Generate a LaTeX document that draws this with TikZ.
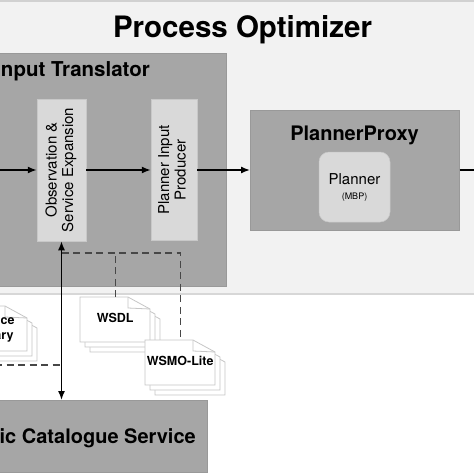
\documentclass[tikz,border=0pt]{standalone}
\usepackage{fontspec}
\setmainfont{TeX Gyre Heros}
\usetikzlibrary{arrows.meta}
\definecolor{boxgray}{HTML}{A6A6A6}
\definecolor{innergray}{HTML}{D9D9D9}
\definecolor{bggray}{HTML}{F2F2F2}
\definecolor{docgray}{HTML}{C6C6C6}
\tikzset{
  outerbox/.style={fill=boxgray, draw=boxgray!92!black, line width=0.6pt, inner sep=0pt},
  innerbox/.style={fill=innergray, draw=innergray!92!black, line width=0.5pt, inner sep=0pt},
  flow/.style={line width=1.4pt, -{Latex[length=9pt,width=7pt]}},
  biflow/.style={line width=1.4pt, {Latex[length=9pt,width=7pt]}-{Latex[length=9pt,width=7pt]}},
  dashline/.style={line width=1.2pt, draw=black!72, dash pattern=on 7pt off 4.5pt},
  docline/.style={draw=docgray, fill=white, line width=0.8pt},
  docpage/.style={minimum width=70pt, minimum height=45pt, inner sep=0pt, align=center,
    font=\bfseries\fontsize{12.5}{15}\selectfont},
}
% stack of three pages: name, x, y (top left), text
\newcommand{\docstack}[4]{%
  \foreach \sh in {10,5,0}{
    \draw[docline] (#2+\sh,#3+\sh) -- (#2+\sh+48,#3+\sh) -- (#2+\sh+70,#3+\sh+12)
      -- (#2+\sh+70,#3+\sh+45) -- (#2+\sh,#3+\sh+45) -- cycle;
  }
  \draw[docline, fill=none] (#2+48,#3) -- (#2+48,#3+11) -- (#2+70,#3+12);
  \node[docpage, anchor=north west] (#1) at (#2,#3) {\raisebox{-6pt}{\begin{tabular}{@{}c@{}}#4\end{tabular}}};
}
\begin{document}
\begin{tikzpicture}[x=1pt, y=-1pt]
  \useasboundingbox (0,0) rectangle (474,474);
  \clip (0,0) rectangle (474,474);
  %
  % process optimizer area
  \fill[bggray] (-10,1) rectangle (484,294);
  \draw[docgray!80, line width=2pt] (-10,1) -- (484,1);
  \draw[docgray!70, line width=2pt] (-10,294) -- (484,294);
  \node[anchor=base, inner sep=0pt, font=\bfseries\fontsize{29.5}{30}\selectfont] (title) at (242.5,37) {Process Optimizer};
  %
  % input translator
  \node[outerbox, minimum width=236pt, minimum height=233pt, anchor=north west] (translator) at (-10,53) {};
  \node[anchor=base east, inner sep=0pt, font=\bfseries\fontsize{20.5}{21}\selectfont] (translatorlabel) at (150,76) {Input Translator};
  \node[innerbox, minimum width=49pt, minimum height=142pt] (obs) at (61.5,170)
    {\rotatebox{90}{\fontsize{15}{16.5}\selectfont\begin{tabular}{@{}c@{}}Observation \&\\Service Expansion\end{tabular}}};
  \node[innerbox, minimum width=46pt, minimum height=141pt] (pip) at (174,170)
    {\rotatebox{90}{\fontsize{15}{16.5}\selectfont\begin{tabular}{@{}c@{}}Planner Input\\Producer\end{tabular}}};
  %
  % planner proxy
  \node[outerbox, minimum width=209pt, minimum height=120pt, anchor=north west] (proxy) at (250,110) {};
  \node[anchor=base, inner sep=0pt, font=\bfseries\fontsize{20}{20}\selectfont] (proxylabel) at (354.5,140) {PlannerProxy};
  \node[innerbox, rounded corners=10pt, minimum width=71pt, minimum height=70pt, align=center,
    font=\fontsize{15}{16}\selectfont] (planner) at (354.5,187)
    {Planner\\[-1pt]{\fontsize{9}{10}\selectfont (MBP)}};
  %
  % catalogue
  \node[outerbox, minimum width=217pt, minimum height=72pt, anchor=north west] (cat) at (-10,400) {};
  \node[anchor=base east, inner sep=0pt, font=\bfseries\fontsize{20}{20}\selectfont] (catlabel) at (196,443) {Semantic Catalogue Service};
  %
  % documents
  \docstack{library}{-43}{306}{Service\\Library}
  \docstack{wsdl}{80}{297}{WSDL}
  \docstack{wsmo}{145}{340}{WSMO-Lite}
  %
  % connectors
  \coordinate (inflow) at (0,170);
  \coordinate (outflow) at (474,170);
  \coordinate (split) at (61.5,253);
  \coordinate (libout) at (-5,365);
  \draw[flow] (inflow) -- (obs.west);
  \draw[flow] (obs.east) -- (pip.west);
  \draw[flow] (pip.east) -- (proxy.west |- pip.east);
  \draw[line width=1.4pt] (proxy.east |- pip.east) -- (outflow);
  \draw[biflow] (obs.south) -- (obs.south |- cat.north);
  \draw[dashline] (split) -| (wsmo.north);
  \draw[dashline] (wsdl.north) -- (wsdl.north |- split);
  \draw[dashline] (libout) -- (libout -| split);
\end{tikzpicture}
\end{document}
